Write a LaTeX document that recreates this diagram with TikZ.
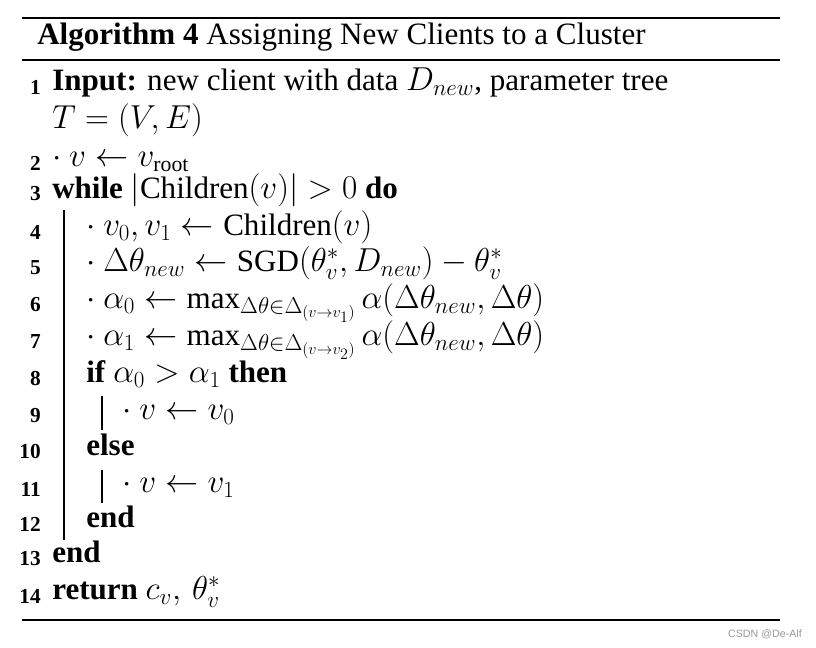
\documentclass[tikz,border=0pt]{standalone}
\usepackage{amsmath}
\usepackage{fontspec}
\setmainfont{Liberation Serif}
\newfontfamily\wmfont{Liberation Sans}
\begin{document}
\begin{tikzpicture}[x=0.75pt,y=-0.75pt,
  txt/.style={anchor=west,inner sep=0pt,text height=15pt,text depth=5pt,font=\fontsize{23.3}{26}\selectfont},
  num/.style={anchor=east,inner sep=0pt,font=\fontsize{16}{18}\selectfont\bfseries},
  bar/.style={line width=0.8pt}]
\useasboundingbox (0,0) rectangle (816,648);
\fill[white] (0,0) rectangle (816,648);
\coordinate (t1) at (22,18); \coordinate (t2) at (780,18);
\coordinate (m1) at (22,60); \coordinate (m2) at (780,60);
\coordinate (b1) at (22,620); \coordinate (b2) at (780,620);
\draw[line width=1.4pt] (t1) -- (t2);
\draw[line width=0.9pt] (m1) -- (m2);
\draw[line width=1.4pt] (b1) -- (b2);
\node[txt] (title) at (37,38) {\textbf{Algorithm 4} Assigning New Clients to a Cluster};
\foreach \n/\y in {1/87,2/163,3/194,4/232,5/268,6/305,7/342,8/379,9/416,10/452,11/489,12/524,13/559,14/596}
  \node[num] (n\n) at (41,\y) {\n};
\node[txt] (l1) at (52,84) {\textbf{Input:} new client with data $D_{new}$, parameter tree};
\node[txt] (l1b) at (52,122) {$T=(V,E)$};
\node[txt] (l2) at (52,160) {$\cdot\ v\leftarrow v_{\mathrm{root}}$};
\node[txt] (l3) at (52,192) {\textbf{while} $|\mathrm{Children}(v)|>0$ \textbf{do}};
\node[txt] (l4) at (86,229) {$\cdot\ v_0,v_1\leftarrow\mathrm{Children}(v)$};
\node[txt] (l5) at (86,265) {$\cdot\ \Delta\theta_{new}\leftarrow\mathrm{SGD}(\theta^*_v,D_{new})-\theta^*_v$};
\node[txt] (l6) at (86,302) {$\cdot\ \alpha_0\leftarrow\max_{\Delta\theta\in\Delta_{(v\to v_1)}}\alpha(\Delta\theta_{new},\Delta\theta)$};
\node[txt] (l7) at (86,339) {$\cdot\ \alpha_1\leftarrow\max_{\Delta\theta\in\Delta_{(v\to v_2)}}\alpha(\Delta\theta_{new},\Delta\theta)$};
\node[txt] (l8) at (86,376) {\textbf{if} $\alpha_0>\alpha_1$ \textbf{then}};
\node[txt] (l9) at (122,413) {$\cdot\ v\leftarrow v_0$};
\node[txt] (l10) at (86,449) {\textbf{else}};
\node[txt] (l11) at (122,486) {$\cdot\ v\leftarrow v_1$};
\node[txt] (l12) at (86,521) {\textbf{end}};
\node[txt] (l13) at (52,556) {\textbf{end}};
\node[txt] (l14) at (52,593) {\textbf{return} $c_v,\,\theta^*_v$};
\coordinate (v1a) at (64,210); \coordinate (v1b) at (64,540);
\coordinate (v2a) at (102,396); \coordinate (v2b) at (102,430);
\coordinate (v3a) at (102,470); \coordinate (v3b) at (102,503);
\draw[bar] (v1a) -- (v1b);
\draw[bar] (v2a) -- (v2b);
\draw[bar] (v3a) -- (v3b);
\node[anchor=east,inner sep=0pt,text=gray!80,font=\wmfont\fontsize{8}{9}\selectfont] (wm) at (802,634) {CSDN @De-Alf};
\end{tikzpicture}
\end{document}
